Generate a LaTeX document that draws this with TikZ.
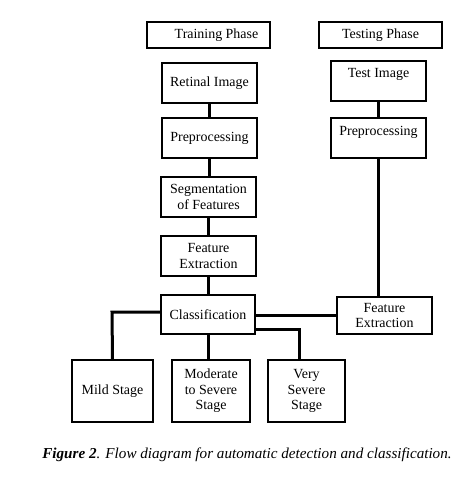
\documentclass[tikz,border=0pt]{standalone}
\usepackage{fontspec}
\setmainfont{Liberation Serif}
\begin{document}
\begin{tikzpicture}[x=1bp,y=-1bp,
  box/.style={draw=black,line width=1.6bp,inner sep=1bp,align=center,font=\fontsize{14}{15.5}\selectfont},
  conn/.style={line width=3bp}]
\useasboundingbox (0,0) rectangle (474,480);
\node[box,minimum width=123bp,minimum height=26bp] (trp) at (208.5,35) {\hspace*{16bp}Training Phase};
\node[box,minimum width=123bp,minimum height=26bp] (tsp) at (380.5,35) {Testing Phase};
\node[box,minimum width=95bp,minimum height=40bp] (ret) at (209.5,83) {Retinal Image};
\node[box,minimum width=95bp,minimum height=40bp,text height=10bp,text depth=16bp] (tst) at (378.5,81) {Test Image};
\node[box,minimum width=95bp,minimum height=40bp] (pre1) at (209.5,138) {Preprocessing};
\node[box,minimum width=95bp,minimum height=40bp,text height=10bp,text depth=14bp] (pre2) at (378.5,138) {Preprocessing};
\node[box,minimum width=95bp,minimum height=40bp] (seg) at (208.5,197) {Segmentation\\of Features};
\node[box,minimum width=95bp,minimum height=40bp] (fe1) at (208.5,256) {Feature\\Extraction};
\node[box,minimum width=94bp,minimum height=39bp] (cls) at (208,314.5) {Classification};
\node[box,minimum width=95bp,minimum height=37bp] (fe2) at (384.5,315.5) {Feature\\Extraction};
\node[box,minimum width=81bp,minimum height=62bp] (mild) at (112.5,391) {Mild Stage};
\node[box,minimum width=78bp,minimum height=62bp] (mod) at (211,391) {Moderate\\to Severe\\Stage};
\node[box,minimum width=77bp,minimum height=62bp] (vs) at (306.5,391) {Very\\Severe\\Stage};
\draw[conn] (ret.south) -- (ret.south |- pre1.north);
\draw[conn] (pre1.south) -- (pre1.south |- seg.north);
\draw[conn] (seg.south) -- (seg.south |- fe1.north);
\draw[conn] (fe1.south) -- (fe1.south |- cls.north);
\draw[conn] (tst.south) -- (tst.south |- pre2.north);
\draw[conn] (pre2.south) -- (pre2.south |- fe2.north);
\draw[conn] (cls.east |- 0,315) -- (fe2.west |- 0,315);
\draw[conn] (cls.south) -- (mod.north -| cls.south);
\coordinate (lj) at (112,312);
\draw[conn] (cls.west |- lj) -- (lj) -- (mild.north);
\coordinate (rj) at (299,329);
\draw[conn] (cls.east |- rj) -- (rj) -- (vs.north -| rj);
\node[font=\fontsize{15.2}{17}\selectfont\itshape] (cap) at (247,455) {\textbf{Figure 2}. Flow diagram for automatic detection and classification.};
\end{tikzpicture}
\end{document}
